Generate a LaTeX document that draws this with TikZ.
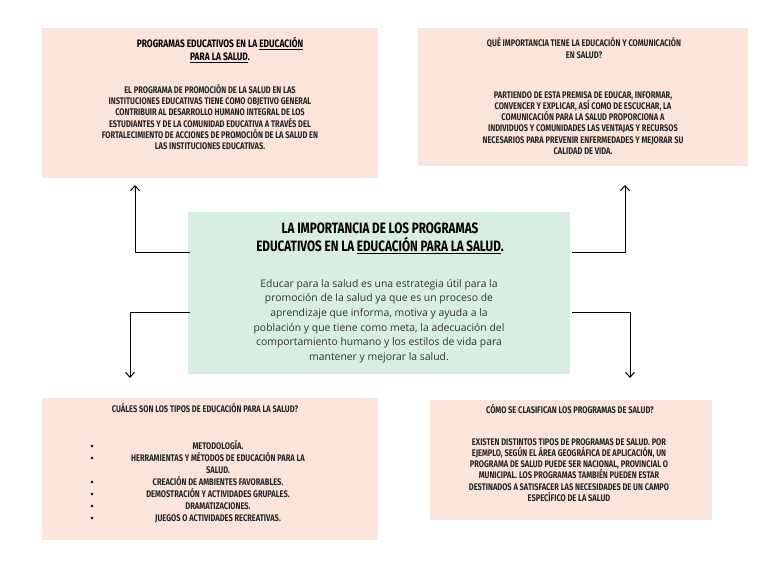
\documentclass[tikz,border=0pt]{standalone}
\usepackage{fontspec}
\setmainfont{Open Sans}
\newfontfamily\hand[FakeStretch=0.78]{Fira Sans}
\usetikzlibrary{arrows.meta}
\definecolor{peach}{HTML}{FBE4DA}
\definecolor{mint}{HTML}{D8EEE2}
\tikzset{
 peachbox/.style={fill=peach,draw=none},
 mintbox/.style={fill=mint,draw=none},
 txt/.style={align=center,font=\hand\bfseries\fontsize{9.6}{11.2}\selectfont,text=black!85},
 head/.style={align=center,font=\hand\bfseries\fontsize{10.8}{13}\selectfont,text=black},
 conn/.style={line width=1pt,-{Straight Barb[length=5pt,width=9pt]}},
}
\begin{document}
\begin{tikzpicture}[x=1pt,y=-1pt]
\useasboundingbox[fill=white] (0,0) rectangle (768,576);
\fill[peachbox] (42,28) rectangle (378,178);
\fill[peachbox] (418,28) rectangle (748,166);
\fill[mintbox] (188,212) rectangle (570,374);
\fill[peachbox] (42,398) rectangle (378,540);
\fill[peachbox] (430,400) rectangle (712,520);
\node[head] (t1) at (220,50) {PROGRAMAS EDUCATIVOS EN LA \underline{EDUCACIÓN}\\\underline{PARA LA SALUD}.};
\node[txt] (b1) at (210,117) {EL PROGRAMA DE PROMOCIÓN DE LA SALUD EN LAS\\INSTITUCIONES EDUCATIVAS TIENE COMO OBJETIVO GENERAL\\CONTRIBUIR AL DESARROLLO HUMANO INTEGRAL DE LOS\\ESTUDIANTES Y DE LA COMUNIDAD EDUCATIVA A TRAVÉS DEL\\FORTALECIMIENTO DE ACCIONES DE PROMOCIÓN DE LA SALUD EN\\LAS INSTITUCIONES EDUCATIVAS.};
\node[txt] (t2) at (584,48) {QUÉ IMPORTANCIA TIENE LA EDUCACIÓN Y COMUNICACIÓN\\EN SALUD?};
\node[txt] (b2) at (583,123) {PARTIENDO DE ESTA PREMISA DE EDUCAR, INFORMAR,\\CONVENCER Y EXPLICAR, ASÍ COMO DE ESCUCHAR, LA\\COMUNICACIÓN PARA LA SALUD PROPORCIONA A\\INDIVIDUOS Y COMUNIDADES LAS VENTAJAS Y RECURSOS\\NECESARIOS PARA PREVENIR ENFERMEDADES Y MEJORAR SU\\CALIDAD DE VIDA.};
\node[align=center,font=\hand\bfseries\fontsize{15}{18}\selectfont] (t0) at (380,238) {LA IMPORTANCIA DE LOS PROGRAMAS\\EDUCATIVOS EN LA \underline{EDUCACIÓN PARA LA SALUD}.};
\node[align=center,font=\fontsize{10.4}{14.6}\selectfont,text=black!80] (b0) at (379,321) {Educar para la salud es una estrategia útil para la\\promoción de la salud ya que es un proceso de\\aprendizaje que informa, motiva y ayuda a la\\población y que tiene como meta, la adecuación del\\comportamiento humano y los estilos de vida para\\mantener y mejorar la salud.};
\node[txt] (t3) at (205,408) {CUÁLES SON LOS TIPOS DE EDUCACIÓN PARA LA SALUD?};
\node[txt,font=\hand\bfseries\fontsize{9.6}{12}\selectfont] (b3) at (218,482) {METODOLOGÍA.\\HERRAMIENTAS Y MÉTODOS DE EDUCACIÓN PARA LA\\SALUD.\\CREACIÓN DE AMBIENTES FAVORABLES.\\DEMOSTRACIÓN Y ACTIVIDADES GRUPALES.\\DRAMATIZACIONES.\\JUEGOS O ACTIVIDADES RECREATIVAS.};
\foreach \y in {446,458,482,494,506,518}{\fill (92,\y) circle (1.3);}
\node[txt] (t4) at (570,409) {CÓMO SE CLASIFICAN LOS PROGRAMAS DE SALUD?};
\node[txt] (b4) at (569,470) {EXISTEN DISTINTOS TIPOS DE PROGRAMAS DE SALUD. POR\\EJEMPLO, SEGÚN EL ÁREA GEOGRÁFICA DE APLICACIÓN, UN\\PROGRAMA DE SALUD PUEDE SER NACIONAL, PROVINCIAL O\\MUNICIPAL. LOS PROGRAMAS TAMBIÉN PUEDEN ESTAR\\DESTINADOS A SATISFACER LAS NECESIDADES DE UN CAMPO\\ESPECÍFICO DE LA SALUD};
\coordinate (a1) at (190,252); \coordinate (e1) at (135,185);
\coordinate (a2) at (572,252); \coordinate (e2) at (625,185);
\coordinate (a3) at (190,312); \coordinate (e3) at (130,378);
\coordinate (a4) at (572,312); \coordinate (e4) at (630,378);
\draw[conn] (a1) -| (e1);
\draw[conn] (a2) -| (e2);
\draw[conn] (a3) -| (e3);
\draw[conn] (a4) -| (e4);
\end{tikzpicture}
\end{document}
